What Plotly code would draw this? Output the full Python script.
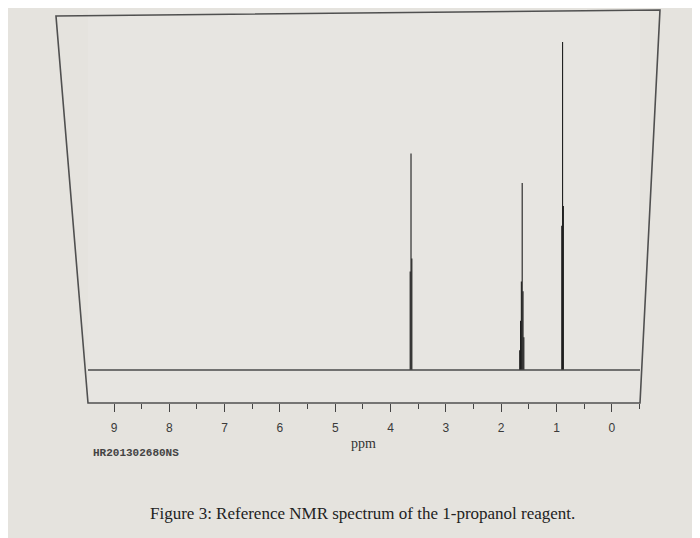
import plotly.graph_objects as go

# Stick spectrum (ppm, relative intensity; tallest = 100)
peak_ppm = [3.645, 3.63, 3.615,
            1.665, 1.65, 1.635, 1.62, 1.605, 1.59,
            0.905, 0.89, 0.875]
peak_int = [30, 66, 34,
            6, 15, 27, 57, 24, 10,
            44, 100, 50]
tick_vals = [9, 8, 7, 6, 5, 4, 3, 2, 1, 0]
tick_text = ["9", "8", "7", "6", "5", "4", "3", "2", "1", "0"]
x_label = "ppm"
sample_id = "HR201302680NS"
caption = "Figure 3: Reference NMR spectrum of the 1-propanol reagent."

xs, ys = [], []
for p, h in zip(peak_ppm, peak_int):
    xs += [p, p, None]
    ys += [0, h, None]

# page body has an 8px margin; positions below are in reference pixels
W, H = 692, 530
PL, PR, PT, PB = 88, 640, 10, 403  # plot area in reference pixels
pw, ph = PR - PL, PB - PT


def px(x):
    return (x - PL) / pw


def py(y):
    return (PB - y) / ph


fig = go.Figure()
fig.add_trace(go.Scatter(x=xs, y=ys, mode="lines",
                         line=dict(color="#1e1e1e", width=1.1),
                         hoverinfo="skip", showlegend=False))
fig.add_hline(y=0, line=dict(color="#4a4a4a", width=1.5))

fig.add_shape(type="path", xref="paper", yref="paper",
              path=f"M 0 0 L 1 0 L {px(660):.4f} 1.0 L {px(56):.4f} {py(16):.4f} Z",
              line=dict(color="#505050", width=1.6), fillcolor="rgba(0,0,0,0)",
              layer="above")

fig.update_layout(
    width=W, height=H,
    margin=dict(l=PL - 8, r=W - (PR - 8), t=PT - 8, b=H - (PB - 8)),
    paper_bgcolor="#e5e3de", plot_bgcolor="#e7e5e1",
    xaxis=dict(range=[9.47, -0.51], tickvals=tick_vals, ticktext=tick_text,
               ticks="outside", ticklen=8, tickwidth=1.3, tickcolor="#444",
               ticklabelstandoff=6,
               showgrid=False, zeroline=False, showline=False,
               tickfont=dict(family="Liberation Sans", size=12, color="#3a3a3a"),
               minor=dict(dtick=0.5, tick0=0, ticks="outside", ticklen=5,
                          tickwidth=1.2, tickcolor="#444", showgrid=False)),
    yaxis=dict(range=[-10.06, 109.76], visible=False, showgrid=False, zeroline=False),
    annotations=[
        dict(text=x_label, xref="paper", yref="paper", x=px(363), y=py(443),
             showarrow=False, font=dict(family="Liberation Serif", size=14, color="#333"),
             xanchor="center", yanchor="middle"),
        dict(text="<b>" + sample_id + "</b>", xref="paper", yref="paper", x=px(91),
             y=py(453), showarrow=False,
             font=dict(family="Liberation Mono", size=11, color="#444"),
             xanchor="left", yanchor="middle"),
        dict(text=caption, xref="paper", yref="paper", x=px(362), y=py(513),
             showarrow=False,
             font=dict(family="Liberation Serif", size=17, color="#222"),
             xanchor="center", yanchor="middle"),
    ],
)

fig.write_html("out.html")
